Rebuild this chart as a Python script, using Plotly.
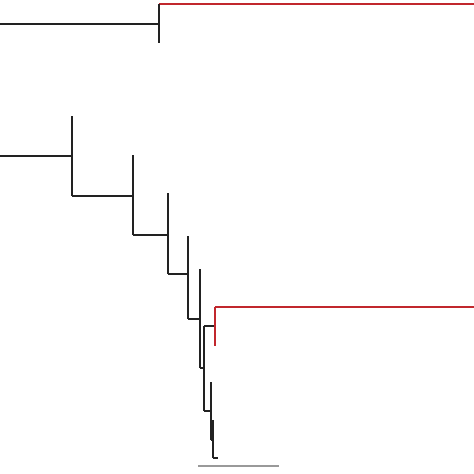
import plotly.graph_objects as go

# horizontal branches: (x_start, x_end, y, color)
h_x0 = [0, 159, 0, 72, 133, 168, 188, 200, 204, 215, 204, 211, 213]
h_x1 = [159, 474, 72, 133, 168, 188, 200, 204, 215, 474, 211, 213, 218]
h_y = [24, 4, 156, 196, 235, 274, 319, 368, 326, 307, 411, 440, 458]
h_c = ["k", "r", "k", "k", "k", "k", "k", "k", "k", "r", "k", "k", "k"]
# vertical branches: (x, y_top, y_bottom, color)
v_x = [159, 72, 133, 168, 188, 200, 204, 215, 211, 213]
v_y0 = [4, 116, 155, 193, 236, 269, 326, 307, 382, 420]
v_y1 = [43, 196, 235, 274, 319, 368, 411, 346, 440, 458]
v_c = ["k", "k", "k", "k", "k", "k", "k", "r", "k", "k"]
# scale bar
bar_x = [198, 279]
bar_y = 466

cols = {"k": "#222222", "r": "#c1272d"}
fig = go.Figure()
for x0, x1, y, c in zip(h_x0, h_x1, h_y, h_c):
    fig.add_trace(go.Scatter(x=[x0, x1], y=[y, y], mode="lines",
                             line=dict(color=cols[c], width=2), hoverinfo="skip"))
for x, y0, y1, c in zip(v_x, v_y0, v_y1, v_c):
    fig.add_trace(go.Scatter(x=[x, x], y=[y0, y1], mode="lines",
                             line=dict(color=cols[c], width=2), hoverinfo="skip"))
fig.add_trace(go.Scatter(x=bar_x, y=[bar_y, bar_y], mode="lines",
                         line=dict(color="#777777", width=1.5), hoverinfo="skip"))
fig.update_layout(width=474, height=474, margin=dict(l=0, r=0, t=0, b=0),
                  showlegend=False, plot_bgcolor="white", paper_bgcolor="white",
                  xaxis=dict(range=[0, 474], visible=False),
                  yaxis=dict(range=[474, 0], visible=False))
fig.write_html("out.html", config={"displayModeBar": False},
               post_script="document.body.style.margin='0';document.body.style.overflow='hidden';")
